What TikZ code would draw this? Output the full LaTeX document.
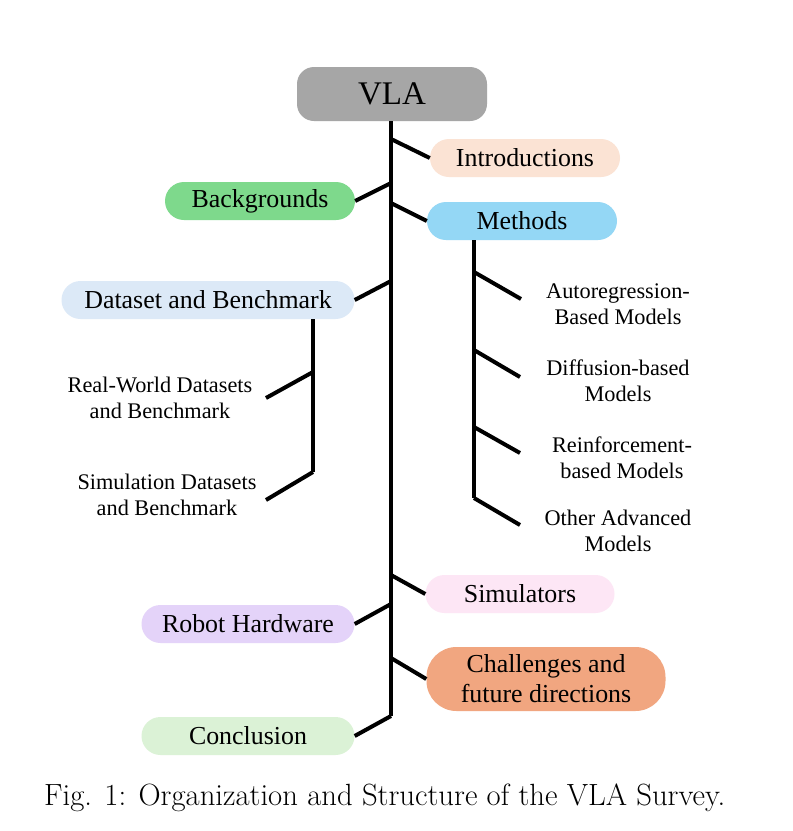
\documentclass[tikz,border=0pt]{standalone}
\usepackage{fontspec}
\setmainfont{Liberation Serif}
\newfontfamily\capfont{Latin Modern Roman}
\definecolor{cvla}{HTML}{A6A6A6}
\definecolor{cintro}{HTML}{FBE3D4}
\definecolor{cback}{HTML}{7ED98C}
\definecolor{cmeth}{HTML}{94D7F5}
\definecolor{cdata}{HTML}{DCE9F7}
\definecolor{csim}{HTML}{FDE6F5}
\definecolor{crobot}{HTML}{E4D3F9}
\definecolor{cchal}{HTML}{F1A680}
\definecolor{cconc}{HTML}{DBF2D6}
\begin{document}
\begin{tikzpicture}[x=1pt,y=-1pt,
  pill/.style={rounded corners=19pt, inner sep=0pt, minimum height=38pt, font=\fontsize{25.9}{30}\selectfont, text=black},
  subtxt/.style={align=center, inner sep=0pt, font=\fontsize{22.3}{26.5}\selectfont},
  link/.style={line width=4pt, line cap=butt},
]
\useasboundingbox (0,0) rectangle (793,831);
\fill[white] (0,0) rectangle (793,831);
% nodes
\node[pill, fill=cvla, minimum width=190pt, minimum height=54pt, rounded corners=17pt, font=\fontsize{33}{38}\selectfont] (vla) at (392,94) {VLA};
\node[pill, fill=cintro, minimum width=190pt] (intro) at (525,158) {Introductions};
\node[pill, fill=cback, minimum width=190pt] (back) at (260,201) {Backgrounds};
\node[pill, fill=cmeth, minimum width=190pt] (meth) at (522,221) {Methods};
\node[pill, fill=cdata, minimum width=293pt] (data) at (208,300) {Dataset and Benchmark};
\node[pill, fill=csim, minimum width=189pt] (sim) at (520,594) {Simulators};
\node[pill, fill=crobot, minimum width=213pt] (robot) at (248,624) {Robot Hardware};
\node[pill, fill=cchal, minimum width=239pt, minimum height=64pt, rounded corners=30pt, align=center, font=\fontsize{25.9}{30}\selectfont] (chal) at (546,679) {Challenges and\\future directions};
\node[pill, fill=cconc, minimum width=213pt] (conc) at (248,736) {Conclusion};
% sub texts
\node[subtxt] (m1) at (618,304) {Autoregression-\\Based Models};
\node[subtxt] (m2) at (618,381) {Diffusion-based\\Models};
\node[subtxt] (m3) at (622,458) {Reinforcement-\\based Models};
\node[subtxt] (m4) at (618,531) {Other Advanced\\Models};
\node[subtxt] (d1) at (160,398) {Real-World Datasets\\and Benchmark};
\node[subtxt] (d2) at (167,495) {Simulation Datasets\\and Benchmark};
% trunk
\coordinate (tend) at (391,716);
\coordinate (t1) at (391,139);
\coordinate (t2) at (391,183);
\coordinate (t3) at (391,203);
\coordinate (t4) at (391,281);
\coordinate (t5) at (391,575);
\coordinate (t6) at (391,604);
\coordinate (t7) at (391,658);
\draw[link] (vla.south -| tend) -- (tend);
\draw[link] (t1) -- (intro.west);
\draw[link] (back.east) -- (t2);
\draw[link] (t3) -- (meth.west);
\draw[link] (data.east) -- (t4);
\draw[link] (t5) -- (sim.west);
\draw[link] (robot.east) -- (t6);
\draw[link] (t7) -- (chal.west);
\draw[link] (conc.east) -- (tend);
% methods sub-trunk
\coordinate (mt) at (474,498);
\coordinate (mj1) at (474,272);
\coordinate (mj2) at (474,350);
\coordinate (mj3) at (474,427);
\coordinate (me1) at (521,299);
\coordinate (me2) at (520,377);
\coordinate (me3) at (520,453);
\coordinate (me4) at (520,525);
\draw[link] (meth.south -| mt) -- (mt);
\draw[link] (mj1) -- (me1);
\draw[link] (mj2) -- (me2);
\draw[link] (mj3) -- (me3);
\draw[link] (mt) -- (me4);
% dataset sub-trunk
\coordinate (dt) at (313,472);
\coordinate (dj1) at (313,372);
\coordinate (de1) at (266,398);
\coordinate (de2) at (266,500);
\draw[link] (data.south -| dt) -- (dt);
\draw[link] (dj1) -- (de1);
\draw[link] (dt) -- (de2);
% caption
\node[inner sep=0pt, anchor=west, font=\capfont\fontsize{30.7}{36}\selectfont] (cap) at (44,798) {Fig. 1: Organization and Structure of the VLA Survey.};
\end{tikzpicture}
\end{document}
